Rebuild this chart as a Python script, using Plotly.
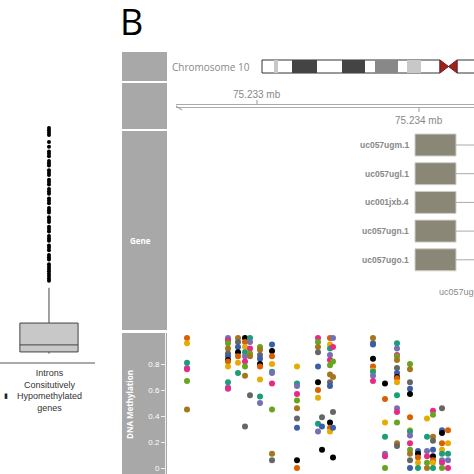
import plotly.graph_objects as go

W = H = 474

# ---- left panel: box plot summary (fraction methylated) ----
box_stats = dict(q1=0.047, median=0.077, q3=0.17, lowerfence=0.04, upperfence=0.32)
box_outliers = [0.35, 0.36, 0.37, 0.38, 0.39, 0.40, 0.41, 0.42, 0.44, 0.45, 0.46, 0.48, 0.49,
                0.50, 0.52, 0.53, 0.54, 0.56, 0.57, 0.58, 0.60, 0.61, 0.62, 0.64, 0.65, 0.66,
                0.68, 0.69, 0.70, 0.72, 0.73, 0.74, 0.76, 0.77, 0.78, 0.80, 0.81, 0.82, 0.84,
                0.85, 0.86, 0.88, 0.89, 0.90, 0.92, 0.94, 0.97, 0.98, 0.99, 1.0]
box_label = "Introns<br>Consitutively<br>Hypomethylated<br>genes"

# ---- right panel ----
gene_names = ["uc057ugm.1", "uc057ugl.1", "uc001jxb.4", "uc057ugn.1", "uc057ugo.1"]
genome_ticks = ["75.233 mb", "75.234 mb"]

# DNA methylation: column position -> values
meth_cols = [187, 228, 238, 245, 250, 260, 272, 297, 318, 322, 330, 333,
             373, 385, 397, 410, 418, 427, 433, 442, 448]
meth_vals = [
    [1.0, 0.96, 0.81, 0.77, 0.76, 0.67, 0.45],
    [1.0, 0.98, 0.96, 0.92, 0.88, 0.86, 0.83, 0.82, 0.78, 0.66, 0.62, 0.61],
    [1.0, 0.97, 0.93, 0.89, 0.86, 0.81, 0.73],
    [1.0, 0.97, 0.93, 0.89, 0.86, 0.82, 0.78, 0.71, 0.32],
    [1.0, 0.97, 0.92, 0.88, 0.86, 0.56],
    [0.93, 0.91, 0.87, 0.84, 0.80, 0.78, 0.68, 0.55, 0.50],
    [0.95, 0.90, 0.86, 0.80, 0.74, 0.73, 0.65, 0.45, 0.11, 0.06],
    [0.78, 0.65, 0.63, 0.57, 0.52, 0.46, 0.38, 0.31, 0.06, 0.0],
    [1.0, 0.97, 0.93, 0.89, 0.78, 0.66, 0.60, 0.54, 0.34, 0.28],
    [0.39, 0.32, 0.14],
    [1.0, 0.95, 0.92, 0.87, 0.83, 0.79, 0.72, 0.66, 0.63, 0.35, 0.31, 0.28],
    [1.0, 0.93, 0.82, 0.70, 0.43, 0.31, 0.08],
    [1.0, 0.96, 0.95, 0.84, 0.78, 0.75, 0.74, 0.71, 0.67],
    [0.65, 0.53, 0.35, 0.24, 0.11, 0.09, 0.0],
    [0.96, 0.92, 0.87, 0.86, 0.83, 0.77, 0.73, 0.70, 0.69, 0.66, 0.56, 0.46, 0.43, 0.35, 0.19, 0.17],
    [0.80, 0.76, 0.66, 0.61, 0.57, 0.39, 0.29, 0.28, 0.25, 0.19, 0.14, 0.11, 0.06, 0.0],
    [0.13, 0.11, 0.08, 0.04, 0.0],
    [0.38, 0.24, 0.13, 0.09, 0.04, 0.0],
    [0.44, 0.41, 0.24, 0.21, 0.14, 0.09, 0.06, 0.04, 0.0],
    [0.46, 0.29, 0.27, 0.19, 0.14, 0.11, 0.06, 0.04, 0.0],
    [0.29, 0.19, 0.11, 0.06, 0.0],
]
palette = ["#d95f02", "#e6ab02", "#1b9e77", "#7570b3", "#e7298a", "#66a61e",
           "#a6761d", "#666666", "#3a5fa8", "#000000"]


def px(x):
    return x / W


def py(y):
    return 1 - y / H


fig = go.Figure()

# box plot
fig.add_trace(go.Box(x=[0], q1=[box_stats["q1"]], median=[box_stats["median"]], q3=[box_stats["q3"]],
                     lowerfence=[box_stats["lowerfence"]], upperfence=[box_stats["upperfence"]],
                     width=0.98, whiskerwidth=0, fillcolor="#c8c8c8", line=dict(color="#444444", width=1),
                     boxpoints=False, xaxis="x3", yaxis="y3", showlegend=False))
fig.add_trace(go.Scatter(x=[0] * len(box_outliers), y=box_outliers, mode="markers",
                         marker=dict(color="black", size=4),
                         xaxis="x3", yaxis="y3", showlegend=False))

# methylation dots
xs, ys, cs = [], [], []
for i, (cx, vals) in enumerate(zip(meth_cols, meth_vals)):
    for j, v in enumerate(vals):
        xs.append(cx)
        ys.append(v)
        cs.append(palette[(i * 3 + j) % len(palette)])
fig.add_trace(go.Scatter(x=xs, y=ys, mode="markers", marker=dict(color=cs, size=6),
                         xaxis="x2", yaxis="y2", showlegend=False))

shapes = []
annotations = []

# gray label column
for y0, y1 in [(52, 81), (83, 129), (131, 330), (333, 474)]:
    shapes.append(dict(type="rect", xref="paper", yref="paper", x0=px(122), x1=px(167), layer="below",
                       y0=py(y1), y1=py(y0), fillcolor="#a8a8a8", line=dict(width=0)))

# chromosome ideogram
shapes.append(dict(type="rect", xref="paper", yref="paper", x0=px(262), x1=px(440), y0=py(73), y1=py(60),
                   fillcolor="white", line=dict(color="#333", width=1)))
shapes.append(dict(type="rect", xref="paper", yref="paper", x0=px(457), x1=px(480), y0=py(73), y1=py(60),
                   fillcolor="white", line=dict(color="#333", width=1)))
for x0, x1, c in [(274, 278, "#c8c8c8"), (292, 317, "#444"), (342, 365, "#444"),
                  (375, 398, "#888"), (407, 421, "#c8c8c8")]:
    shapes.append(dict(type="rect", xref="paper", yref="paper", x0=px(x0), x1=px(x1), y0=py(73), y1=py(60),
                       fillcolor=c, line=dict(width=0)))
shapes.append(dict(type="path", xref="paper", yref="paper",
                   path=f"M {px(440)},{py(60)} L {px(457)},{py(73)} L {px(457)},{py(60)} L {px(440)},{py(73)} Z",
                   fillcolor="#a02020", line=dict(color="#7a1a1a", width=1)))

# genome axis
for yy in [104.5, 107.5]:
    shapes.append(dict(type="line", xref="paper", yref="paper", x0=px(176), x1=px(474), y0=py(yy), y1=py(yy),
                       line=dict(color="#aaaaaa", width=1.2)))
shapes.append(dict(type="line", xref="paper", yref="paper", x0=px(176), x1=px(182), y0=py(106), y1=py(110),
                   line=dict(color="#aaaaaa", width=1.2)))
shapes.append(dict(type="line", xref="paper", yref="paper", x0=px(257), x1=px(257), y0=py(104), y1=py(100),
                   line=dict(color="#999", width=1)))
shapes.append(dict(type="line", xref="paper", yref="paper", x0=px(419), x1=px(419), y0=py(108), y1=py(112),
                   line=dict(color="#999", width=1)))
annotations.append(dict(x=px(257), y=py(94), text=genome_ticks[0]))
annotations.append(dict(x=px(419), y=py(120), text=genome_ticks[1]))
annotations.append(dict(x=px(170), y=py(67), text="Chromosome 10", xanchor="left", font=dict(size=10, color="#888")))

# genes
for k, name in enumerate(gene_names):
    yc = 145 + k * 28.7
    shapes.append(dict(type="rect", xref="paper", yref="paper", x0=px(415), x1=px(456), y0=py(yc + 11),
                       y1=py(yc - 11), fillcolor="#8a8776", line=dict(color="#cfcfc8", width=1)))
    shapes.append(dict(type="line", xref="paper", yref="paper", x0=px(456), x1=px(474), y0=py(yc), y1=py(yc),
                       line=dict(color="#aaa", width=1)))
    annotations.append(dict(x=px(411), y=py(yc), text="<b>" + name + "</b>", xanchor="right",
                            font=dict(size=8.5, color="#888", family="Liberation Sans")))
annotations.append(dict(x=px(437), y=py(292), text="uc057ugo.1", xanchor="left",
                        font=dict(size=9, color="#888", family="Liberation Sans")))

annotations.append(dict(x=px(128), y=py(240), text="<b>Gene</b>", xanchor="left", font=dict(size=8, color="white")))
annotations.append(dict(x=px(129), y=py(405), text="<b>DNA Methylation</b>", textangle=-90,
                        font=dict(size=8, color="white")))
annotations.append(dict(x=px(118), y=py(21), text="B", xanchor="left", font=dict(size=36, color="black")))

# left panel axis + labels
shapes.append(dict(type="line", xref="paper", yref="paper", x0=0, x1=px(95), y0=py(363), y1=py(363),
                   line=dict(color="#555", width=1)))
annotations.append(dict(x=px(49), y=py(366), text=box_label, yanchor="top",
                        font=dict(size=9, color="#333", family="Liberation Sans")))
annotations.append(dict(x=px(2), y=py(395), text="▮", xanchor="left", font=dict(size=7, color="#222")))

for a in annotations:
    a.setdefault("xref", "paper")
    a.setdefault("yref", "paper")
    a.setdefault("showarrow", False)
    a.setdefault("xanchor", "center")
    a.setdefault("yanchor", "middle")
    a.setdefault("font", dict(size=10, color="#888", family="Liberation Sans"))

fig.update_layout(
    width=W, height=H, margin=dict(l=0, r=0, t=0, b=0),
    plot_bgcolor="rgba(0,0,0,0)", paper_bgcolor="white",
    shapes=shapes, annotations=annotations,
    xaxis2=dict(domain=[px(166), 1], range=[166, 474], visible=False),
    yaxis2=dict(domain=[0, py(331)], range=[-0.046, 1.054], anchor="x2",
                tickvals=[0, 0.2, 0.4, 0.6, 0.8], ticktext=["0", "0.2", "0.4", "0.6", "0.8"],
                showgrid=False, zeroline=False, showline=True, linecolor="#eeeeee",
                ticks="outside", ticklen=4, tickcolor="#eeeeee",
                tickfont=dict(size=8, color="white", family="Liberation Sans")),
    xaxis3=dict(domain=[0, px(95)], range=[-0.825, 0.775], visible=False),
    yaxis3=dict(domain=[py(363), py(120)], range=[0, 1.034], anchor="x3", visible=False),
)
fig.write_html("out.html", config={"displayModeBar": False},
               post_script="document.body.style.margin='0';")
